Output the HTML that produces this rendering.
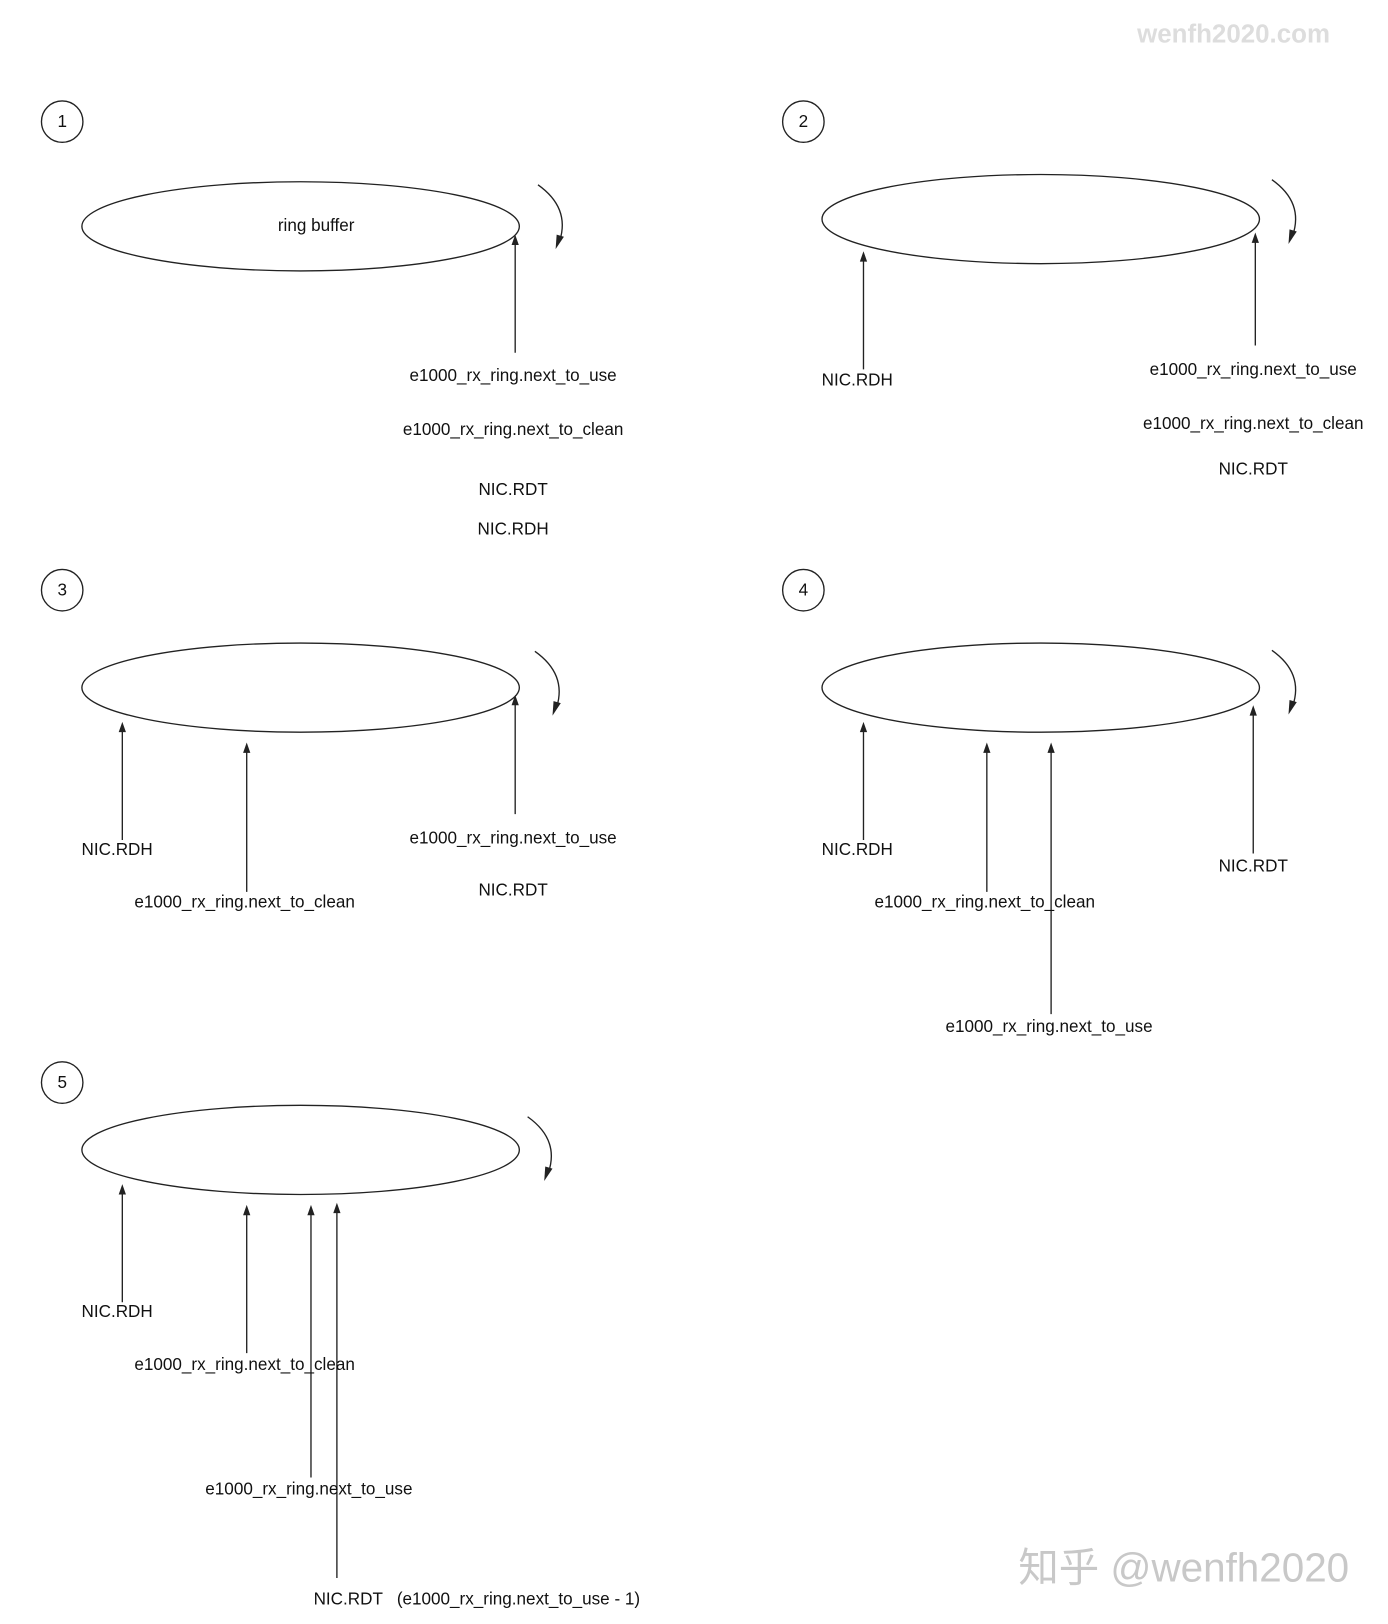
<!DOCTYPE html>
<html><head><meta charset="utf-8"><style>
html,body{margin:0;padding:0;background:#fff;}
svg{display:block;}
text{font-family:"Liberation Sans","Noto Sans CJK SC",sans-serif;font-size:16.5px;fill:#111;text-anchor:middle;dominant-baseline:middle;}
</style></head><body>
<svg width="1388" height="1624" viewBox="0 0 1339 1566" xmlns="http://www.w3.org/2000/svg">
<g fill="none" stroke="#222" stroke-width="1.3">
<circle cx="60" cy="117" r="20"/><circle cx="775" cy="117" r="20"/>
<circle cx="60" cy="569" r="20"/><circle cx="775" cy="569" r="20"/>
<circle cx="60" cy="1044" r="20"/>
<ellipse cx="290" cy="218" rx="211" ry="43"/>
<ellipse cx="1004" cy="211" rx="211" ry="43"/>
<ellipse cx="290" cy="663" rx="211" ry="43"/>
<ellipse cx="1004" cy="663" rx="211" ry="43"/>
<ellipse cx="290" cy="1109" rx="211" ry="43"/>
<path d="M519,178 Q550,200 540,232"/>
<path d="M1227,173 Q1258,195 1247,227"/>
<path d="M516,628 Q547,650 537,682"/>
<path d="M1227,627 Q1258,649 1247,681"/>
<path d="M509,1077 Q540,1099 529,1131"/>
<path d="M497,340V232 M833,356V248 M1211,333V230 M118,810V702 M238,860V722 M497,785V676 M833,810V702 M952,860V722 M1014,978V722 M1209,823V686 M118,1256V1148 M238,1305V1168 M300,1425V1168 M325,1522V1166"/>
</g>
<g fill="#222">
<path d="M536,240 L537,226 L544,228Z"/>
<path d="M1243,235 L1244,221 L1251,223Z"/>
<path d="M533,690 L534,676 L541,678Z"/>
<path d="M1243,689 L1244,675 L1251,677Z"/>
<path d="M525,1139 L526,1125 L533,1127Z"/>
<path d="M497,226l-3.5,10h7z M833,242l-3.5,10h7z M1211,224l-3.5,10h7z M118,696l-3.5,10h7z M238,716l-3.5,10h7z M497,670l-3.5,10h7z M833,696l-3.5,10h7z M952,716l-3.5,10h7z M1014,716l-3.5,10h7z M1209,680l-3.5,10h7z M118,1142l-3.5,10h7z M238,1162l-3.5,10h7z M300,1162l-3.5,10h7z M325,1160l-3.5,10h7z"/>
</g>
<text x="60" y="118">1</text><text x="775" y="118">2</text><text x="60" y="570">3</text><text x="775" y="570">4</text><text x="60" y="1045">5</text>
<text x="305" y="218">ring buffer</text>
<text x="495" y="363">e1000_rx_ring.next_to_use</text>
<text x="495" y="415">e1000_rx_ring.next_to_clean</text>
<text x="495" y="473">NIC.RDT</text>
<text x="495" y="511">NIC.RDH</text>
<text x="827" y="367">NIC.RDH</text>
<text x="1209" y="357">e1000_rx_ring.next_to_use</text>
<text x="1209" y="409">e1000_rx_ring.next_to_clean</text>
<text x="1209" y="453">NIC.RDT</text>
<text x="113" y="820">NIC.RDH</text>
<text x="236" y="871">e1000_rx_ring.next_to_clean</text>
<text x="495" y="809">e1000_rx_ring.next_to_use</text>
<text x="495" y="859">NIC.RDT</text>
<text x="827" y="820">NIC.RDH</text>
<text x="950" y="871">e1000_rx_ring.next_to_clean</text>
<text x="1012" y="991">e1000_rx_ring.next_to_use</text>
<text x="1209" y="836">NIC.RDT</text>
<text x="113" y="1266">NIC.RDH</text>
<text x="236" y="1317">e1000_rx_ring.next_to_clean</text>
<text x="298" y="1437">e1000_rx_ring.next_to_use</text>
<text x="460" y="1543" xml:space="preserve">NIC.RDT   (e1000_rx_ring.next_to_use - 1)</text>
<text x="1190" y="34" style="font-size:25px;font-weight:bold;fill:#ddd">wenfh2020.com</text>
<text x="1142" y="1515" style="font-size:39px;fill:#c8c8c8">知乎 @wenfh2020</text>
</svg>
</body></html>
